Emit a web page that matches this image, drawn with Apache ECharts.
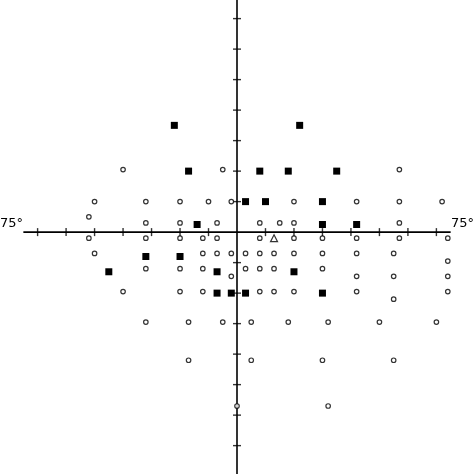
<!DOCTYPE html>
<html>
<head>
<meta charset="utf-8">
<script src="https://cdn.jsdelivr.net/npm/echarts@6/dist/echarts.min.js"></script>
<style>html,body{margin:0;padding:0;background:#fff}#c{width:474px;height:474px}</style>
</head>
<body>
<div id="c"></div>
<script>
// visual field points, degrees [x, y]
const filledPoints = [
  [-22, 35], [22, 35],
  [-17, 20], [8, 20], [18, 20], [35, 20],
  [3, 10], [10, 10], [30, 10],
  [-14, 2.5], [30, 2.5], [42, 2.5],
  [-32, -8], [-20, -8],
  [-45, -13], [-7, -13], [20, -13],
  [-7, -20], [-2, -20], [3, -20], [30, -20]
];
const openPoints = [
  [-40, 20.5], [-5, 20.5], [57, 20.5],
  [-50, 10], [-32, 10], [-20, 10], [-10, 10], [-2, 10], [20, 10], [42, 10], [57, 10], [72, 10],
  [-52, 5],
  [-32, 3], [-20, 3], [-7, 3], [8, 3], [15, 3], [20, 3], [57, 3],
  [-52, -2], [-32, -2], [-20, -2], [-12, -2], [-7, -2], [8, -2], [20, -2], [30, -2], [42, -2], [57, -2], [74, -2],
  [-50, -7], [-12, -7], [-7, -7], [-2, -7], [3, -7], [8, -7], [13, -7], [20, -7], [30, -7], [42, -7], [55, -7],
  [74, -9.5],
  [-32, -12], [-20, -12], [-12, -12], [3, -12], [8, -12], [13, -12], [30, -12],
  [-2, -14.5], [42, -14.5], [55, -14.5], [74, -14.5],
  [-40, -19.5], [-20, -19.5], [-12, -19.5], [8, -19.5], [13, -19.5], [20, -19.5], [42, -19.5], [74, -19.5],
  [55, -22],
  [-32, -29.5], [-17, -29.5], [-5, -29.5], [5, -29.5], [18, -29.5], [32, -29.5], [50, -29.5], [70, -29.5],
  [-17, -42], [5, -42], [30, -42], [55, -42],
  [0, -57], [32, -57]
];
const blindSpot = [[13, -2]];
const xTicks = [-70, -60, -50, -40, -30, -20, -10, 10, 20, 30, 40, 50, 60, 70];
const yTicks = [-70, -60, -50, -40, -30, -20, -10, 10, 20, 30, 40, 50, 60, 70];
const xAxisExtent = [[-75, 0], [75, 0]];

const chart = echarts.init(document.getElementById('c'));
chart.setOption({
  animation: false,
  grid: { left: 0, right: 0, top: 0, bottom: 0 },
  xAxis: {
    type: 'value', min: -83.2, max: 83.2,
    axisLine: { show: false },
    axisTick: { show: false }, axisLabel: { show: false }, splitLine: { show: false }
  },
  yAxis: {
    type: 'value', min: -79.3, max: 76.1,
    axisLine: { onZero: true, lineStyle: { color: '#000', width: 1.6 } },
    axisTick: { show: false }, axisLabel: { show: false }, splitLine: { show: false }
  },
  graphic: [
    { type: 'text', left: 0, top: 217, style: { text: '75°', font: '13px "DejaVu Sans"', fill: '#000' } },
    { type: 'text', right: 0, top: 217, style: { text: '75°', font: '13px "DejaVu Sans"', fill: '#000' } }
  ],
  series: [
    {
      type: 'line', silent: true, symbol: 'none', data: xAxisExtent,
      lineStyle: { color: '#000', width: 1.6 }
    },
    {
      type: 'scatter', silent: true, symbol: 'rect', symbolSize: [1.4, 8],
      itemStyle: { color: '#000' }, data: xTicks.map(v => [v, 0])
    },
    {
      type: 'scatter', silent: true, symbol: 'rect', symbolSize: [8, 1.4],
      itemStyle: { color: '#000' }, data: yTicks.map(v => [0, v])
    },
    {
      type: 'scatter', symbol: 'circle', symbolSize: 4.5,
      itemStyle: { color: '#fff', borderColor: '#000', borderWidth: 1.2 }, data: openPoints
    },
    {
      type: 'scatter', symbol: 'rect', symbolSize: 7,
      itemStyle: { color: '#000', opacity: 1 }, data: filledPoints
    },
    {
      type: 'scatter', symbol: 'triangle', symbolSize: 7,
      itemStyle: { color: '#fff', borderColor: '#000', borderWidth: 1.2 }, data: blindSpot
    }
  ]
});
</script>
</body>
</html>
